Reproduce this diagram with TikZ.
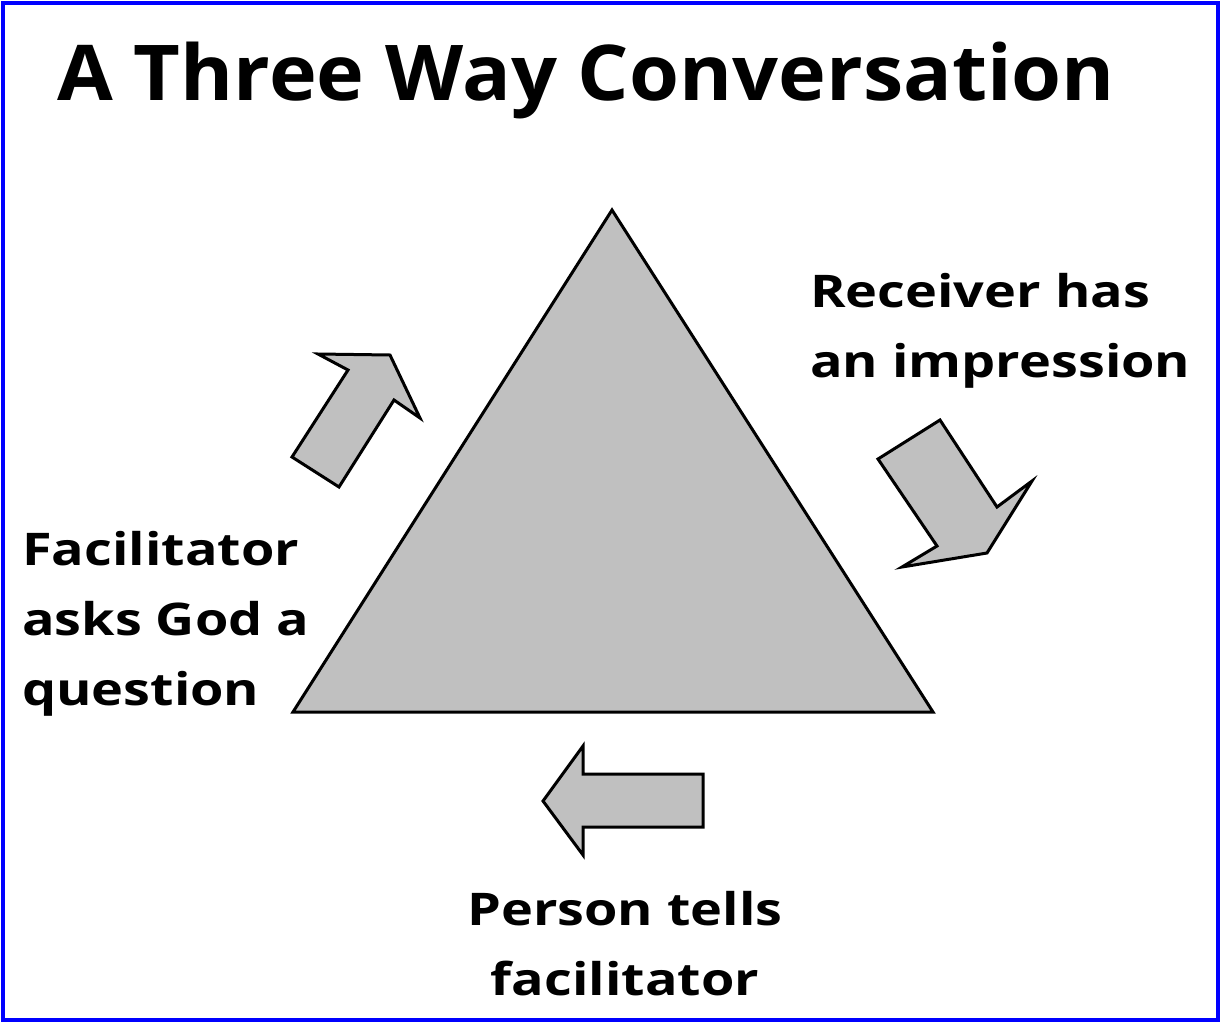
\documentclass[tikz,border=0pt]{standalone}
\usepackage{fontspec}
\setmainfont{Open Sans}[BoldFont={* Bold}]
\begin{document}
\begin{tikzpicture}[x=1pt,y=-1pt,
  shapefill/.style={draw=black,fill={rgb,255:red,192;green,192;blue,192},line width=3pt,line join=miter},
  lbl/.style={font=\bfseries\addfontfeature{FakeStretch=1.2}\fontsize{45}{70}\selectfont,inner sep=0pt,align=left},
  ttl/.style={font=\bfseries\addfontfeature{FakeStretch=1.05}\fontsize{77}{80}\selectfont,inner sep=0pt}]
\useasboundingbox (0,0) rectangle (1221,1023);
\draw[draw={rgb,255:red,0;green,0;blue,255},line width=4pt] (3,3) rectangle (1218,1020);
\node[ttl,anchor=base west] (title) at (57,100) {A Three Way Conversation};
% triangle
\coordinate (apex) at (612,210);
\coordinate (bl) at (293,712);
\coordinate (br) at (933,712);
\draw[shapefill] (apex) -- (bl) -- (br) -- cycle;
% arrows
\draw[shapefill] (292,457) -- (348,370) -- (318,354) -- (390,355) -- (420,418) -- (394,400) -- (339,487) -- cycle;
\draw[shapefill] (878,459) -- (940,420) -- (997,507) -- (1032,481) -- (987,553) -- (902,567) -- (937,546) -- cycle;
\draw[shapefill] (703,774) -- (703,827) -- (583,827) -- (583,855) -- (543,801) -- (583,746) -- (583,774) -- cycle;
% labels
\node[lbl,anchor=north west] (fac) at (22,531) {Facilitator\\asks God a\\question};
\node[lbl,anchor=north west] (rec) at (810,273) {Receiver has\\an impression};
\node[lbl,align=center,anchor=north] (per) at (625,891) {Person tells\\facilitator};
\end{tikzpicture}
\end{document}
